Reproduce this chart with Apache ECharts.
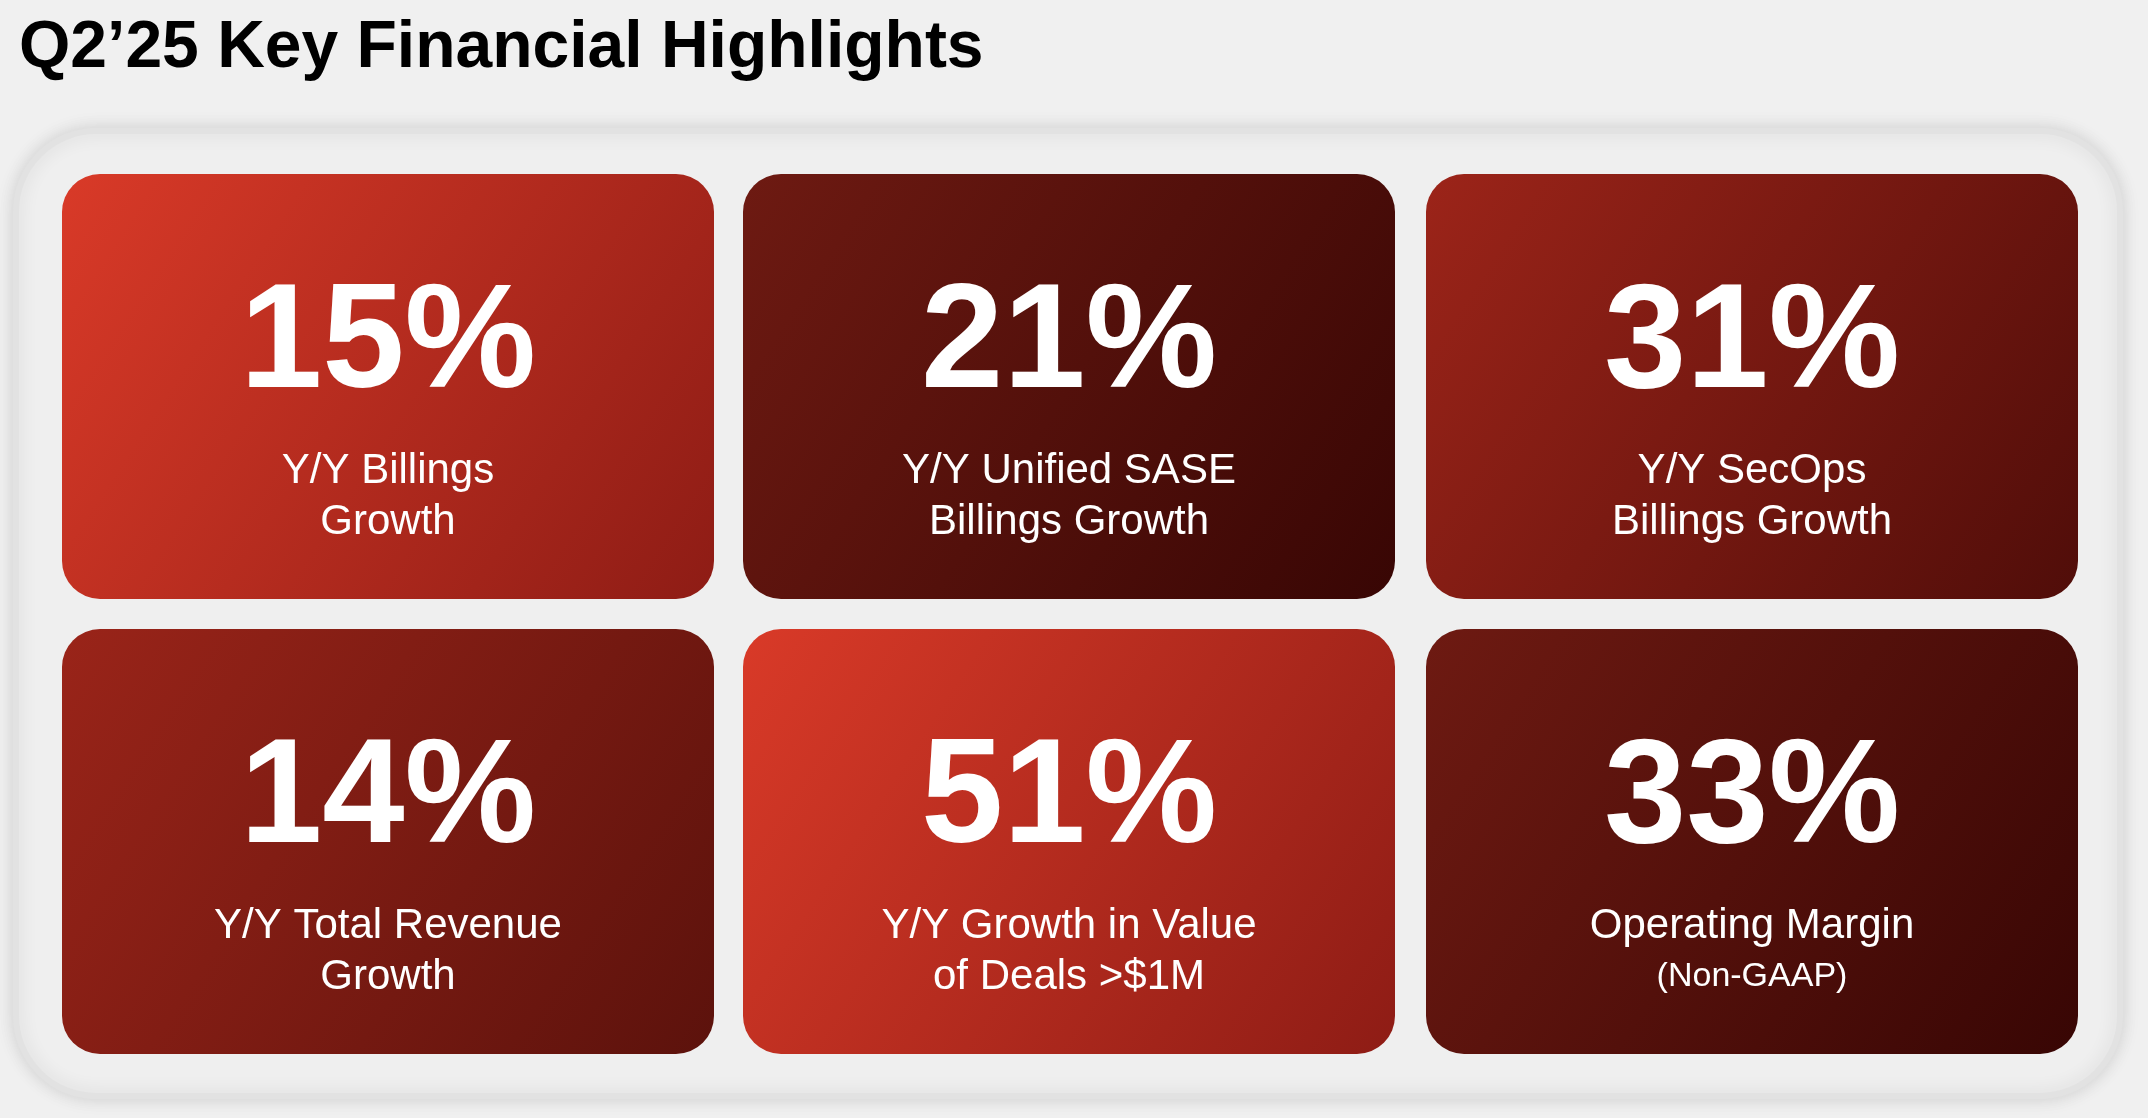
<!DOCTYPE html>
<html><head><meta charset="utf-8">
<script src="https://cdn.jsdelivr.net/npm/echarts@6/dist/echarts.min.js"></script>
<style>html,body{margin:0;padding:0;background:#f0f0f0}#c{width:2148px;height:1118px}</style>
</head><body><div id="c"></div>
<script>
const title = "Q2\u201925 Key Financial Highlights";
const values = ["15%", "21%", "31%", "14%", "51%", "33%"];
const labels = [
  ["Y/Y Billings", "Growth"],
  ["Y/Y Unified SASE", "Billings Growth"],
  ["Y/Y SecOps", "Billings Growth"],
  ["Y/Y Total Revenue", "Growth"],
  ["Y/Y Growth in Value", "of Deals >$1M"],
  ["Operating Margin", "(Non-GAAP)"]
];
const palettes = [
  ["#d93a28", "#8e1c15"],
  ["#6e1a12", "#380604"],
  ["#9c2419", "#500d09"],
  ["#9a2419", "#5c120c"],
  ["#d93a28", "#8e1c15"],
  ["#6e1a12", "#380604"]
];
const chart = echarts.init(document.getElementById('c'));
const colX = [62, 743, 1426], rowY = [174, 629], W = 652, H = 425;
const els = [];
els.push({type:'text', left:19, top:16, style:{text:title, font:'bold 66px "Liberation Sans", Arial, sans-serif', fill:'#000'}});
els.push({type:'rect', shape:{x:16,y:131,width:2104,height:965,r:80},
  style:{fill:'#efefef', stroke:'#e2e2e2', lineWidth:6, shadowBlur:18, shadowColor:'rgba(0,0,0,0.12)'}});
values.forEach((v,i)=>{
  const x = colX[i%3], y = rowY[Math.floor(i/3)];
  els.push({type:'rect', shape:{x, y, width:W, height:H, r:38},
    style:{fill:new echarts.graphic.LinearGradient(0,0,1,1,[{offset:0,color:palettes[i][0]},{offset:1,color:palettes[i][1]}])}});
  els.push({type:'text', x:x+W/2, y:y+172, style:{text:v, font:'bold 148px "Liberation Sans", Arial, sans-serif', fill:'#fff', align:'center', verticalAlign:'middle'}});
  labels[i].forEach((l,j)=>{
    const small = l.startsWith('(');
    els.push({type:'text', x:x+W/2, y:y+297+j*51, style:{text:l, font:(small?'34px':'42px')+' "Liberation Sans", Arial, sans-serif', fill:'#fff', align:'center', verticalAlign:'middle'}});
  });
});
chart.setOption({backgroundColor:'#f0f0f0', graphic:{elements:els}});
</script></body></html>
